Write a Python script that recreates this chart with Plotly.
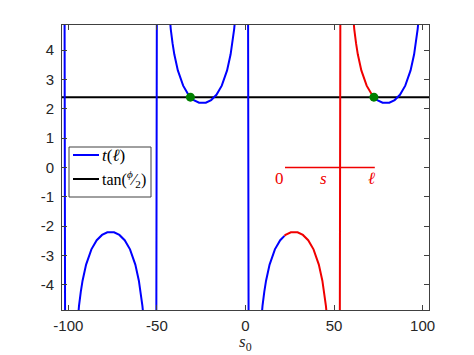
import plotly.graph_objects as go

# ---- data ----
blue_s = [-103.0, -101.0, -100.0, -98.0, -96.0, -95.0, -94.0, -93.0, -92.0, -90.0, -87.0, -84.0, -81.0,
          -78.0, -76.1, -74.2, -71.2, -68.2, -65.2, -62.2, -60.2, -59.2, -58.2, -57.2, -56.2, -54.2,
          -52.2, -51.2,
          -49.2, -48.2, -46.2, -44.2, -43.2, -42.2, -41.2, -40.2, -38.2, -35.2, -32.2, -29.2, -26.2,
          -24.3, -22.4, -19.4, -16.4, -13.4, -10.4, -8.4, -7.4, -6.4, -5.4, -4.4, -2.4, -0.4, 0.6,
          2.6, 3.6, 5.6, 7.6, 8.6, 9.6, 10.6, 11.6, 13.6, 16.6, 19.6, 22.0,
          None,
          72.5, 74.4, 77.4, 79.3, 81.2, 84.2, 87.2, 90.2, 93.2, 95.2, 96.2, 97.2, 98.2, 99.2, 101.2, 103.2]
blue_t = [36.3, -36.3, -18.2, -9.16, -6.18, -5.34, -4.72, -4.24, -3.86, -3.31, -2.79, -2.48, -2.30,
          -2.21, -2.20, -2.21, -2.30, -2.48, -2.79, -3.31, -3.86, -4.24, -4.72, -5.34, -6.18, -9.16,
          -18.2, -36.3,
          36.3, 18.2, 9.16, 6.18, 5.34, 4.72, 4.24, 3.86, 3.31, 2.79, 2.48, 2.30, 2.21,
          2.20, 2.21, 2.30, 2.48, 2.79, 3.31, 3.86, 4.24, 4.72, 5.34, 6.18, 9.16, 18.2, 36.3,
          -36.3, -18.2, -9.16, -6.18, -5.34, -4.72, -4.24, -3.86, -3.31, -2.79, -2.48, -2.33,
          None,
          2.40, 2.30, 2.21, 2.20, 2.21, 2.30, 2.48, 2.79, 3.31, 3.86, 4.24, 4.72, 5.34, 6.18, 9.16, 18.2]

red_s = [22.0, 22.6, 25.6, 27.5, 29.4, 32.4, 35.4, 38.4, 41.4, 43.4, 44.4, 45.4, 46.4, 47.4, 49.4,
         51.4, 52.4,
         54.4, 55.4, 57.4, 59.4, 60.4, 61.4, 62.4, 63.4, 65.4, 68.4, 71.4, 72.5]
red_t = [-2.33, -2.30, -2.21, -2.20, -2.21, -2.30, -2.48, -2.79, -3.31, -3.86, -4.24, -4.72, -5.34,
         -6.18, -9.16, -18.2, -36.3,
         36.3, 18.2, 9.16, 6.18, 5.34, 4.72, 4.24, 3.86, 3.31, 2.79, 2.48, 2.40]

tan_half = 2.40
dot_s = [-31.1, 72.5]
dot_t = [2.40, 2.40]

seg_s = [22.3, 73.0]
seg_t = [0.0, 0.0]
seg_label_text = ["0", "<i>s</i>", "<i>ℓ</i>"]
seg_label_s = [19.1, 43.9, 71.2]
seg_label_t = [-0.42, -0.42, -0.42]

x_range = [-103.6, 103.6]
y_range = [-4.86, 4.86]
x_ticks = [-100, -50, 0, 50, 100]
x_tick_text = ["-100", "-50", "0", "50", "100"]
y_ticks = [-4, -3, -2, -1, 0, 1, 2, 3, 4]
y_tick_text = ["-4", "-3", "-2", "-1", "0", "1", "2", "3", "4"]

BLUE = "rgb(0,0,255)"
RED = "rgb(240,0,0)"
GREEN = "rgb(0,128,0)"
SERIF = "Liberation Serif, DejaVu Serif, serif"
SANS = "Liberation Sans, Arial, sans-serif"
AX = "#404040"
TXT = "#262626"

fig = go.Figure()
fig.add_trace(go.Scatter(x=x_range, y=[tan_half, tan_half], mode="lines",
                         line=dict(color="black", width=2), hoverinfo="skip"))
fig.add_trace(go.Scatter(x=blue_s, y=blue_t, mode="lines", connectgaps=False,
                         line=dict(color=BLUE, width=2)))
fig.add_trace(go.Scatter(x=red_s, y=red_t, mode="lines",
                         line=dict(color=RED, width=2)))
fig.add_trace(go.Scatter(x=seg_s, y=seg_t, mode="lines",
                         line=dict(color=RED, width=1.3)))
fig.add_trace(go.Scatter(x=seg_label_s, y=seg_label_t, mode="text", text=seg_label_text,
                         textfont=dict(family=SERIF, size=17, color=RED)))
fig.add_trace(go.Scatter(x=dot_s, y=dot_t, mode="markers",
                         marker=dict(color=GREEN, size=9, line=dict(width=0))))

# manual legend (paper coordinates)
def px_x(p):
    return (p - 62) / 367.0

def px_y(p):
    return (310 - p) / 285.0

shapes = [
    dict(type="rect", xref="paper", yref="paper", x0=px_x(69), x1=px_x(151), y0=px_y(197), y1=px_y(147),
         line=dict(color=AX, width=1), fillcolor="white", layer="above"),
    dict(type="line", xref="paper", yref="paper", x0=px_x(73), x1=px_x(99), y0=px_y(155), y1=px_y(155),
         line=dict(color=BLUE, width=2), layer="above"),
    dict(type="line", xref="paper", yref="paper", x0=px_x(73), x1=px_x(99), y0=px_y(179), y1=px_y(179),
         line=dict(color="black", width=2), layer="above"),
]
annotations = [
    dict(xref="paper", yref="paper", x=px_x(100), y=px_y(155), xanchor="left", yanchor="middle",
         text="<i>t</i>(<i>ℓ</i>)", showarrow=False, font=dict(family=SERIF, size=17, color="black")),
    dict(xref="paper", yref="paper", x=px_x(100), y=px_y(179), xanchor="left", yanchor="middle",
         text="tan(<sup><i>ϕ</i></sup>⁄<sub>2</sub>)", showarrow=False,
         font=dict(family=SERIF, size=16, color="black")),
    dict(xref="paper", yref="paper", x=px_x(245), y=px_y(343), xanchor="center", yanchor="middle",
         text="<i>s</i><sub>0</sub>", showarrow=False, font=dict(family=SERIF, size=17, color=TXT)),
]

fig.update_layout(
    width=474, height=355,
    margin=dict(l=62, r=45, t=25, b=45),
    paper_bgcolor="white", plot_bgcolor="white",
    showlegend=False,
    shapes=shapes, annotations=annotations,
    font=dict(family=SANS, size=15, color=TXT),
)
fig.update_xaxes(range=x_range, tickvals=x_ticks, ticktext=x_tick_text, ticks="inside", ticklen=5,
                 tickcolor=AX, showline=True, linecolor=AX, linewidth=1, mirror="ticks",
                 showgrid=False, zeroline=False, ticklabelstandoff=2, automargin=False,
                 tickfont=dict(family=SANS, size=15, color=TXT))
fig.update_yaxes(range=y_range, tickvals=y_ticks, ticktext=y_tick_text, ticks="inside", ticklen=5,
                 tickcolor=AX, showline=True, linecolor=AX, linewidth=1, mirror="ticks",
                 showgrid=False, zeroline=False, ticklabelstandoff=4, automargin=False,
                 tickfont=dict(family=SANS, size=15, color=TXT))

fig.write_html("out.html")
